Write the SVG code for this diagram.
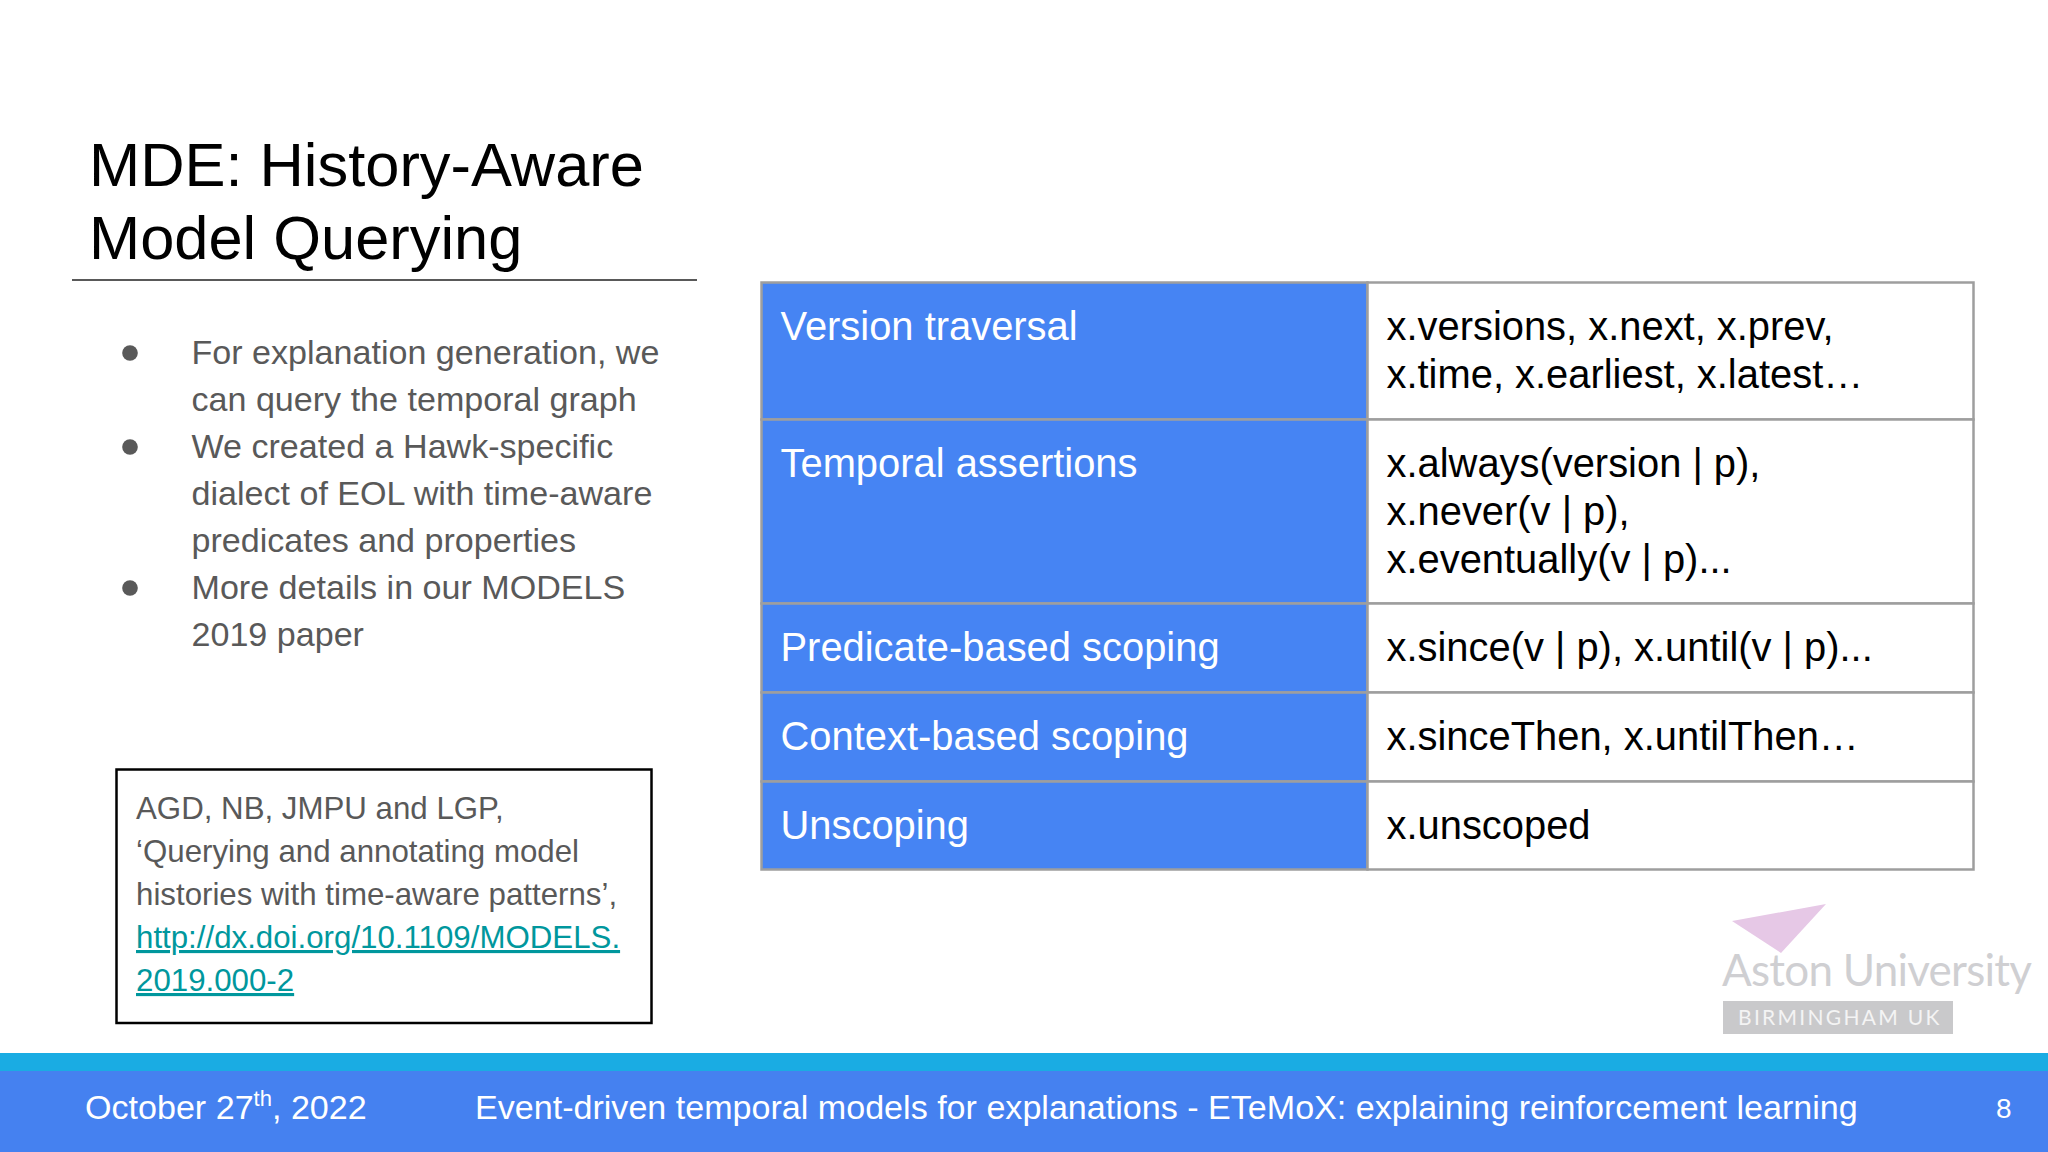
<svg xmlns="http://www.w3.org/2000/svg" width="2048" height="1152" viewBox="0 0 2048 1152">
<style>
text{font-family:"Liberation Sans",Arial,sans-serif}
.title{font-size:61.4px;fill:#000}
.body{font-size:34.1px;fill:#595959}
.ref{font-size:31.25px;fill:#595959}
.link{font-size:31.25px;fill:#00979d;text-decoration:underline}
.hd{font-size:39.9px;fill:#fff}
.cell{font-size:39.9px;fill:#000}
.foot{font-size:34.1px;fill:#fff}
.hc{fill:#4684f3;stroke:#9e9e9e;stroke-width:2.5}
.bc{fill:#fff;stroke:#9e9e9e;stroke-width:2.5}
</style>
<rect width="2048" height="1152" fill="#fff"/>
<g id="title">
<text class="title" x="89" y="186">MDE: History-Aware</text>
<text class="title" x="89" y="259">Model Querying</text>
<rect x="72" y="279" width="625" height="2" fill="#595959"/>
</g>
<g id="bullets">
<circle cx="130" cy="353" r="7.800" fill="#595959"/><circle cx="130" cy="447" r="7.800" fill="#595959"/><circle cx="130" cy="588" r="7.800" fill="#595959"/>
<text class="body" x="191.500" y="363.500">For explanation generation, we</text>
<text class="body" x="191.500" y="410.500">can query the temporal graph</text>
<text class="body" x="191.500" y="457.500">We created a Hawk-specific</text>
<text class="body" x="191.500" y="504.500">dialect of EOL with time-aware</text>
<text class="body" x="191.500" y="551.500">predicates and properties</text>
<text class="body" x="191.500" y="598.500">More details in our MODELS</text>
<text class="body" x="191.500" y="645.500">2019 paper</text>
</g>
<g id="reference">
<rect x="116.500" y="769.500" width="535" height="253.500" fill="#fff" stroke="#000" stroke-width="2.500"/>
<text class="ref" x="136" y="819">AGD, NB, JMPU and LGP,</text>
<text class="ref" x="136" y="862">‘Querying and annotating model</text>
<text class="ref" x="136" y="905">histories with time-aware patterns’,</text>
<text class="link" x="136" y="948">http://dx.doi.org/10.1109/MODELS.</text>
<text class="link" x="136" y="991">2019.000-2</text>
</g>
<g id="table">
<g id="row1"><rect class="hc" x="761.500" y="282.500" width="606" height="137"/><rect class="bc" x="1367.500" y="282.500" width="606" height="137"/>
<text class="hd" x="780.500" y="340">Version traversal</text>
<text class="cell" x="1386.500" y="340">x.versions, x.next, x.prev,</text>
<text class="cell" x="1386.500" y="388">x.time, x.earliest, x.latest…</text></g>
<g id="row2"><rect class="hc" x="761.500" y="419.500" width="606" height="184"/><rect class="bc" x="1367.500" y="419.500" width="606" height="184"/>
<text class="hd" x="780.500" y="477">Temporal assertions</text>
<text class="cell" x="1386.500" y="477">x.always(version | p),</text>
<text class="cell" x="1386.500" y="525">x.never(v | p),</text>
<text class="cell" x="1386.500" y="573">x.eventually(v | p)...</text></g>
<g id="row3"><rect class="hc" x="761.500" y="603.500" width="606" height="89"/><rect class="bc" x="1367.500" y="603.500" width="606" height="89"/>
<text class="hd" x="780.500" y="661">Predicate-based scoping</text>
<text class="cell" x="1386.500" y="661">x.since(v | p), x.until(v | p)...</text></g>
<g id="row4"><rect class="hc" x="761.500" y="692.500" width="606" height="89"/><rect class="bc" x="1367.500" y="692.500" width="606" height="89"/>
<text class="hd" x="780.500" y="750">Context-based scoping</text>
<text class="cell" x="1386.500" y="750">x.sinceThen, x.untilThen…</text></g>
<g id="row5"><rect class="hc" x="761.500" y="781.500" width="606" height="88"/><rect class="bc" x="1367.500" y="781.500" width="606" height="88"/>
<text class="hd" x="780.500" y="839">Unscoping</text>
<text class="cell" x="1386.500" y="839">x.unscoped</text></g>
</g>
<g id="logo">
<polygon points="1732,921 1826,904 1781,953" fill="#e6c8e6"/>
<text x="1722" y="986" font-size="44" fill="#cfcfd2" textLength="310" style="font-family:Lato,sans-serif">Aston University</text>
<rect x="1723" y="1001" width="230" height="33" fill="#c9c9cb"/>
<text x="1738" y="1025" font-size="21" fill="#f4f4f4" letter-spacing="2.300" style="font-family:Lato,sans-serif">BIRMINGHAM UK</text>
</g>
<g id="footer">
<rect y="1053" width="2048" height="19" fill="#1aace3"/>
<rect y="1071" width="2048" height="81" fill="#4581f0"/>
<text class="foot" x="85" y="1118.500">October 27<tspan font-size="22" dy="-13">th</tspan><tspan dy="13">, 2022</tspan></text>
<text class="foot" x="475" y="1118.500">Event-driven temporal models for explanations - ETeMoX: explaining reinforcement learning</text>
<text x="1996" y="1118" font-size="28" fill="#fff">8</text>
</g>
</svg>
